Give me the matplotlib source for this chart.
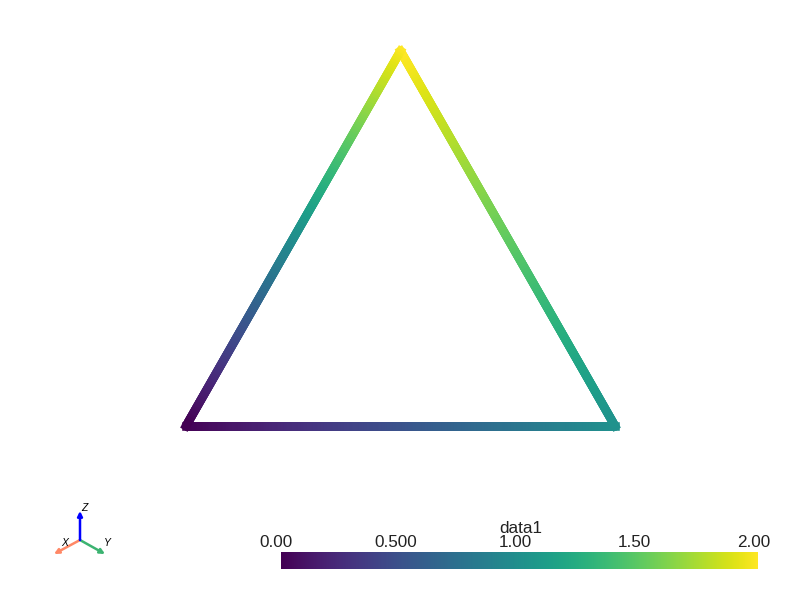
import numpy as np
import matplotlib
matplotlib.use("Agg")
import matplotlib.pyplot as plt
from matplotlib.collections import LineCollection

# Punkte des Dreiecks und Skalarwerte (data1)
punkte_x = [0.0, 1.0, 0.5]
punkte_y = [0.0, 0.0, 0.866]
werte = [0.0, 1.0, 2.0]
kanten = [(0, 1), (1, 2), (2, 0)]

cbar_ticks = [0.0, 0.5, 1.0, 1.5, 2.0]
cbar_labels = ["0.00", "0.500", "1.00", "1.50", "2.00"]
cbar_titel = "data1"

W, H = 802, 600
fig = plt.figure(figsize=(W / 100, H / 100), dpi=100)
fig.patch.set_facecolor("white")

# Hauptachse: Daten -> Pixel
sx, sy = 429.0, 433.0
x0_px, y0_px = 186.0, 426.0
ax = fig.add_axes([0, 0, 1, 1])
ax.set_xlim(-x0_px / sx, (W - x0_px) / sx)
ax.set_ylim(-(H - y0_px) / sy, y0_px / sy)
ax.axis("off")

cmap = plt.get_cmap("viridis")
norm = plt.Normalize(min(werte), max(werte))

for a, b in kanten:
    # Farbverlauf entlang der Kante (nur fuer die Darstellung unterteilt)
    t = np.linspace(0, 1, 150)
    xs = punkte_x[a] + t * (punkte_x[b] - punkte_x[a])
    ys = punkte_y[a] + t * (punkte_y[b] - punkte_y[a])
    vs = werte[a] + t * (werte[b] - werte[a])
    pts = np.column_stack([xs, ys]).reshape(-1, 1, 2)
    segs = np.concatenate([pts[:-1], pts[1:]], axis=1)
    lc = LineCollection(segs, cmap=cmap, norm=norm, linewidths=6.2,
                        capstyle="projecting")
    lc.set_array(0.5 * (vs[:-1] + vs[1:]))
    ax.add_collection(lc)

# Overlay in Pixelkoordinaten
ov = fig.add_axes([0, 0, 1, 1])
ov.set_xlim(0, W)
ov.set_ylim(H, 0)
ov.axis("off")
ov.patch.set_alpha(0)

# Farbleiste
cb_l, cb_r, cb_t, cb_b = 281, 758, 552, 569
cax = fig.add_axes([cb_l / W, (H - cb_b) / H, (cb_r - cb_l) / W, (cb_b - cb_t) / H])
gradient = np.linspace(min(werte), max(werte), 256).reshape(1, -1)
cax.imshow(gradient, aspect="auto", cmap=cmap, norm=norm,
           extent=[min(werte), max(werte), 0, 1])
cax.axis("off")

schrift = ["Liberation Sans", "DejaVu Sans"]
for wert, lab in zip(cbar_ticks, cbar_labels):
    px = cb_l + (wert - min(werte)) / (max(werte) - min(werte)) * (cb_r - cb_l) - 4.5
    ov.text(px, 547, lab, ha="center", va="baseline", fontsize=12.3,
            color="#222222", family=schrift)
ov.text(521, 533, cbar_titel, ha="center", va="baseline", fontsize=12.3,
        color="#222222", family=schrift)

# Achsen-Widget
ursprung = (80, 540)
achsen = [("X", (54, 554), "#ff8866", (65, 543)),
          ("Y", (105, 554), "#3cb371", (107, 543)),
          ("Z", (80, 511), "#0000ff", (84, 508))]
for name, spitze, farbe, lab_pos in achsen:
    ov.annotate("", xy=spitze, xytext=ursprung,
                arrowprops=dict(arrowstyle="-|>", color=farbe, lw=1.8,
                                mutation_scale=7, shrinkA=0, shrinkB=0))
    ov.text(lab_pos[0], lab_pos[1], name, ha="center", va="center",
            fontsize=7.5, style="italic", color="black", family=schrift)

fig.savefig("out.png", dpi=100)
